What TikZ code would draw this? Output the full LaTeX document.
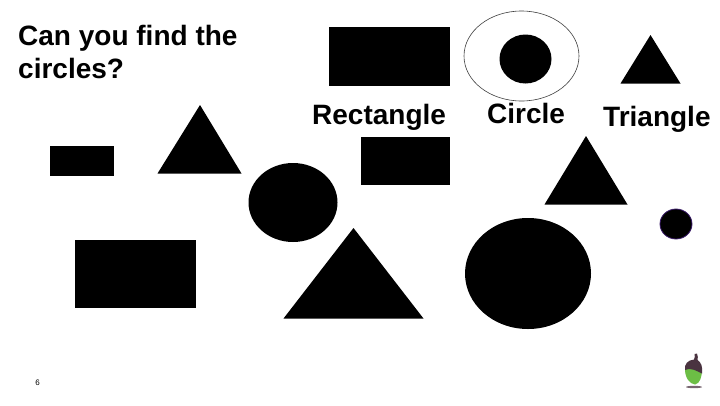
\documentclass[tikz,border=0pt]{standalone}
\usepackage{fontspec}
\setmainfont{Liberation Sans}
\definecolor{capc}{HTML}{4A3340}
\definecolor{acorn}{HTML}{6CBE45}
\definecolor{rimc}{HTML}{3A1A6A}
\tikzset{
  shape fill/.style={fill=black},
  lab/.style={inner sep=0pt,font=\bfseries\fontsize{28}{33}\selectfont,anchor=base west}
}
\begin{document}
\begin{tikzpicture}[x=1pt,y=-1pt]
\useasboundingbox (0,0) rectangle (720,405);
\fill[white] (0,0) rectangle (720,405);
% text
\node[lab] (t1) at (18,45) {Can you find the};
\node[lab] (t2) at (18,78) {circles?};
\node[lab] (t3) at (312,124) {Rectangle};
\node[lab] (t4) at (487,123.5) {Circle};
\node[lab] (t5) at (603,126) {Triangle};
\node[inner sep=0pt,font=\fontsize{8}{10}\selectfont,anchor=base] (pg) at (37.5,385) {6};
% rectangles
\fill[shape fill] (328.5,26.5) rectangle (449.5,85.5);
\fill[shape fill] (360.5,136.5) rectangle (449.5,184.5);
\fill[shape fill] (49.5,145.5) rectangle (113.5,175.5);
\fill[shape fill] (74.5,239.5) rectangle (195.5,307.5);
% triangles
\fill[shape fill] (650.5,35) -- (680.5,83.5) -- (620.5,83.5) -- cycle;
\fill[shape fill] (200,105) -- (241.5,173.5) -- (157.5,173.5) -- cycle;
\fill[shape fill] (586,136) -- (627.5,204.5) -- (544.5,204.5) -- cycle;
\fill[shape fill] (353.5,228) -- (423.5,318.5) -- (283.5,318.5) -- cycle;
% ellipses
\draw[black!75,line width=0.6pt] (521.5,56) ellipse [x radius=57.5,y radius=45];
\fill[shape fill] (525.5,59) ellipse [x radius=26,y radius=24.5];
\fill[shape fill] (293,202.5) ellipse [x radius=44.5,y radius=39.5];
\fill[shape fill] (528,273.5) ellipse [x radius=63,y radius=55.5];
\filldraw[fill=black,draw=rimc,line width=0.8pt] (676,224) ellipse [x radius=16,y radius=15];
% acorn
\fill[acorn] (685,368) .. controls (684.5,378) and (690,384) .. (695,384.5) .. controls (700,384) and (702,376) .. (702,370) -- cycle;
\fill[capc] (685,370) .. controls (684,364) and (688,360) .. (694,359.5) .. controls (695,358) and (695,356) .. (694.5,354) -- (697,353.5) .. controls (698,356) and (698,358) .. (697.5,360) .. controls (701,362) and (703,367) .. (702,373.5) .. controls (697,371) and (690,367) .. (685,370) -- cycle;
\fill[capc!75] (694,387) ellipse [x radius=8,y radius=1.2];
\end{tikzpicture}
\end{document}
